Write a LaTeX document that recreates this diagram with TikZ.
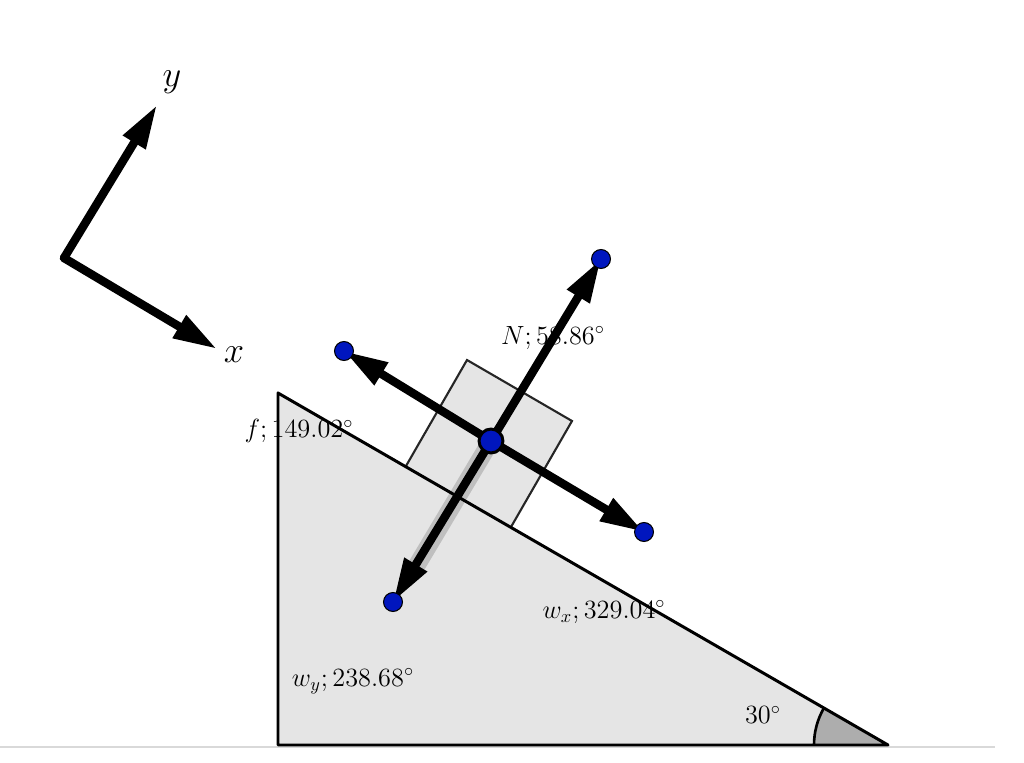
\documentclass[tikz,border=0pt]{standalone}
\usepackage{amssymb}
\usepackage{amsmath}
\usetikzlibrary{arrows.meta,backgrounds,calc}
\definecolor{ramp}{HTML}{E5E5E5}
\definecolor{wedge}{HTML}{ADADAD}
\definecolor{dotblue}{HTML}{0016BE}
\tikzset{
  dot/.style={circle,draw=black,fill=dotblue,line width=0.6pt,minimum size=19*0.5675pt,inner sep=0pt},
  bigdot/.style={dot,line width=1.7pt,minimum size=24*0.5675pt},
  force/.style={line width=4.8pt,-{Triangle[length=25pt,width=14pt]}},
  edge/.style={line width=1.2pt,black!85},
  lab/.style={inner sep=0pt,font=\Large,scale=1.04},
  axlab/.style={inner sep=0pt,font=\huge}
}
\begin{document}
\begin{tikzpicture}[x=0.02cm,y=-0.02cm]
\useasboundingbox (0,0) rectangle (1024,763);
\node[dot] (N) at (601,259) {};
\node[dot] (f) at (344,351) {};
\node[dot] (wx) at (644,532) {};
\node[dot] (wy) at (393,602) {};
\node[bigdot] (mid) at (491,441) {};
\begin{scope}[on background layer]
\coordinate (lineA) at (0,747);
\coordinate (lineB) at (995,747);
\draw[black!15,line width=0.7pt] (lineA) -- (lineB);
% incline
\coordinate (top) at (278,393);
\coordinate (foot) at (278,745);
\coordinate (tip) at (888,745);
\fill[ramp] (top) -- (foot) -- (tip) -- cycle;
\fill[wedge] (tip) -- ++(180:74) arc[start angle=180,end angle=210,radius=74] -- cycle;
% block
\coordinate (b1) at (406,466);
\coordinate (b2) at (467,360);
\coordinate (b3) at (572,421);
\coordinate (b4) at (511,527);
\fill[ramp] (b1) -- (b2) -- (b3) -- (b4) -- cycle;
\draw[edge] (b1) -- (b2) -- (b3) -- (b4);
% labels
\node[lab] (lN) at (553,338) {$N;58.86^\circ$};
\node[lab] (lf) at (299,431) {$f;149.02^\circ$};
\node[lab] (lwx) at (604,612) {$w_x;329.04^\circ$};
\node[lab] (lwy) at (353,681) {$w_y;238.68^\circ$};
\node[lab] (lang) at (763,715) {$30^\circ$};
\coordinate (shadow) at (417,565);
\draw[black!25,line width=10pt] (mid.center) -- (shadow);
\draw[line width=1.7pt,line join=round] (tip) -- (top) -- (foot) -- cycle;
\draw[line width=1.5pt] ($(tip)+(180:74)$) arc[start angle=180,end angle=210,radius=74];
% axes
\coordinate (O) at (64,258);
\coordinate (xend) at (217,349);
\coordinate (yend) at (157,105);
\draw[force,line cap=round] (O) -- (xend);
\draw[force,line cap=round] (O) -- (yend);
\node[axlab] (xlab) at (234,355) {$x$};
\node[axlab] (ylab) at (172,82) {$y$};
% forces
\draw[force] (mid.center) -- (N.center);
\draw[force] (mid.center) -- (f.center);
\draw[force] (mid.center) -- (wx.center);
\draw[force] (mid.center) -- (wy.center);
\end{scope}
\end{tikzpicture}
\end{document}
